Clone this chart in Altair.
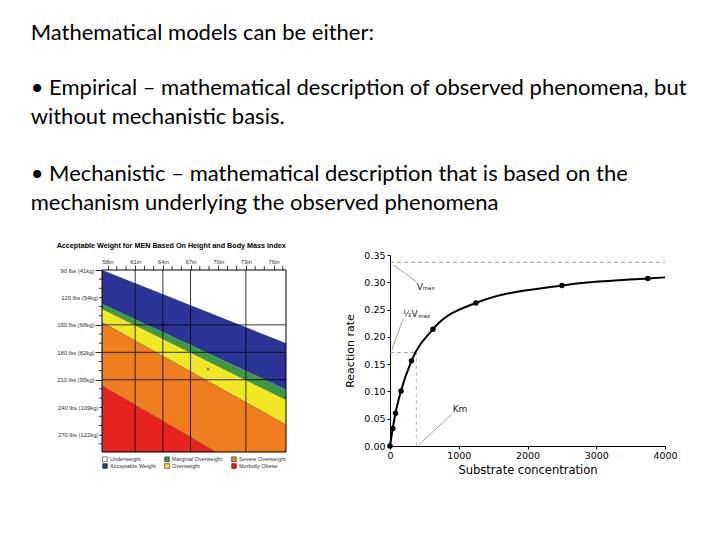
import altair as alt
import pandas as pd

# ---------------- slide text ----------------
heading_line = ["Mathematical models can be either:"]
empirical_lines = ["\u2022 Empirical \u2013 mathematical description of observed phenomena, but",
                   "without mechanistic basis."]
mechanistic_lines = ["\u2022 Mechanistic \u2013 mathematical description that is based on the",
                     "mechanism underlying the observed phenomena"]

# ---------------- BMI chart data ----------------
bmi_title = "Acceptable Weight for MEN Based On Height and Body Mass Index"
height_edges = [57.4, 77.35]
weight_edges = [90, 289]
band_names = ["Underweight", "Acceptable Weight", "Marginal Overweight",
              "Overweight", "Severe Overweight", "Morbidly Obese"]
band_colors = ["#ffffff", "#2b3595", "#3a9a47", "#efe924", "#ef7f1e", "#e6231e"]
boundary_left = [90, 90, 127.1, 132.5, 147.1, 216.5, 320]
boundary_right = [90, 170, 220.9, 231.8, 259.1, 333.6, 345]
height_label_values = [58, 61, 64, 67, 70, 73, 76]
height_label_text = ["58in", "61in", "64in", "67in", "70in", "73in", "76in"]
height_minor_ticks = [59, 60, 62, 63, 65, 66, 68, 69, 71, 72, 74, 75, 77]
height_grid = [61, 64, 67, 73]
weight_label_values = [90, 120, 150, 180, 210, 240, 270]
weight_label_text = ["90 lbs (41kg)", "120 lbs (54kg)", "150 lbs (68kg)", "180 lbs (82kg)",
                     "210 lbs (95kg)", "240 lbs (109kg)", "270 lbs (122kg)"]
weight_minor_ticks = [100, 110, 130, 140, 160, 170, 190, 200, 220, 230, 250, 260, 280]
weight_long_ticks = [90, 150, 180, 210]
weight_grid = [150, 180, 210]
marker_height = [68.9]
marker_weight = [198.4]

# ---------------- Michaelis-Menten data ----------------
conc = [0, 40, 80, 160, 312, 625, 1250, 2500, 3750]
rate = [0, 0.032, 0.06, 0.101, 0.156, 0.214, 0.262, 0.294, 0.307]
curve_conc = conc + [4000]
curve_rate = rate + [0.309]
conc_ticks = [0, 1000, 2000, 3000, 4000]
rate_ticks = [0, 0.05, 0.1, 0.15, 0.2, 0.25, 0.3, 0.35]
vmax = 0.3366
half_vmax = 0.1714
km = 383
leader_x1 = [48, 24, 412]
leader_y1 = [0.3317, 0.1756, 0.0013]
leader_x2 = [388, 194, 897]
leader_y2 = [0.301, 0.2338, 0.0582]
big_text = ["V", "\u00bdV", "Km"]
big_text_x = [388, 185, 912]
big_text_y = [0.2918, 0.2417, 0.0686]
sub_text = ["max", "max"]
sub_text_x = [475, 412]
sub_text_y = [0.2889, 0.238]

# ================= BMI chart =================
band_rows = []
for i, name in enumerate(band_names):
    band_rows.append({"height": height_edges[0], "weight": boundary_left[i],
                      "weight2": boundary_left[i + 1], "band": name})
    band_rows.append({"height": height_edges[1], "weight": boundary_right[i],
                      "weight2": boundary_right[i + 1], "band": name})
bands_df = pd.DataFrame(band_rows)

line_rows = []
for j in [3, 4, 5]:
    line_rows.append({"height": height_edges[0], "weight": boundary_left[j], "b": j})
    line_rows.append({"height": height_edges[1], "weight": boundary_right[j], "b": j})
lines_df = pd.DataFrame(line_rows)


def label_expr(values, texts):
    expr = "''"
    for v, t in reversed(list(zip(values, texts))):
        expr = f"datum.value == {v} ? '{t}' : ({expr})"
    return expr


# plot area reaches 15px above the drawn box so it lines up with the right chart
LEFT_H = 197
TOP_GAP = 15
lbs_per_px = (weight_edges[1] - weight_edges[0]) / (LEFT_H - TOP_GAP)
hx = alt.Scale(domain=height_edges, nice=False, zero=False)
wy = alt.Scale(domain=[weight_edges[0] - TOP_GAP * lbs_per_px, weight_edges[1]],
               nice=False, zero=False, reverse=True)
long_test = " || ".join(f"datum.value == {v}" for v in weight_long_ticks)
lfont = "Liberation Sans"

x_axis = alt.Axis(orient="top", offset=-TOP_GAP, values=height_label_values,
                  labelExpr=label_expr(height_label_values, height_label_text),
                  tickSize=5, tickColor="black", tickWidth=0.8, domain=False, grid=False,
                  labelFont=lfont, labelFontSize=5.9, labelColor="#333",
                  labelPadding=1, labelFlush=False, labelOverlap=False, title=None)
y_axis = alt.Axis(orient="left", values=weight_label_values,
                  labelExpr=label_expr(weight_label_values, weight_label_text),
                  tickSize={"condition": {"test": long_test, "value": 7}, "value": 3},
                  tickColor="black", tickWidth=0.8, domain=False, grid=False,
                  labelFont=lfont, labelFontSize=5.9, labelColor="#333",
                  labelPadding=1, labelFlush=False, labelOverlap=False, title=None)


def HX(field="height:Q"):
    return alt.X(field, scale=hx, axis=x_axis)


def WY(field="weight:Q"):
    return alt.Y(field, scale=wy, axis=y_axis)


areas = alt.Chart(bands_df).mark_area(clip=True, opacity=1).encode(
    x=HX(), y=WY(), y2="weight2:Q",
    color=alt.Color("band:N", scale=alt.Scale(domain=band_names, range=band_colors),
                    legend=alt.Legend(title=None, orient="none", legendX=0, legendY=201,
                                      columns=3, symbolType="square", symbolSize=22,
                                      symbolStrokeColor="black", symbolStrokeWidth=0.5,
                                      labelFont=lfont, labelFontSize=5.5,
                                      labelColor="#333", rowPadding=-1.5, columnPadding=7,
                                      labelOffset=2, padding=0)),
    detail="band:N",
)

bound_lines = alt.Chart(lines_df).mark_line(clip=True, color="black", strokeWidth=0.6,
                                            strokeDash=[1.5, 1], opacity=0.8).encode(
    x=HX(), y=WY(), detail="b:N")

vgrid = alt.Chart(pd.DataFrame({"height": height_grid, "weight": weight_edges[0],
                                "weight2": weight_edges[1]})).mark_rule(
    color="black", strokeWidth=0.8).encode(x=HX(), y=WY(), y2="weight2:Q")
hgrid = alt.Chart(pd.DataFrame({"weight": weight_grid})).mark_rule(
    color="black", strokeWidth=0.8).encode(y=WY())

box_h = alt.Chart(pd.DataFrame({"height": height_edges[0], "height2": height_edges[1],
                                "weight": weight_edges})).mark_rule(
    color="black", strokeWidth=1).encode(x=HX(), x2="height2:Q", y=WY())
box_v = alt.Chart(pd.DataFrame({"height": height_edges, "weight": weight_edges[0],
                                "weight2": weight_edges[1]})).mark_rule(
    color="black", strokeWidth=1).encode(x=HX(), y=WY(), y2="weight2:Q")

x_minor = alt.Chart(pd.DataFrame({"height": height_minor_ticks})).mark_rule(
    color="black", strokeWidth=0.8).encode(x=HX(), y=alt.value(TOP_GAP - 4),
                                           y2=alt.value(TOP_GAP))
y_minor = alt.Chart(pd.DataFrame({"weight": weight_minor_ticks})).mark_rule(
    color="black", strokeWidth=0.8).encode(y=WY(), x=alt.value(-3), x2=alt.value(0))

marker = alt.Chart(pd.DataFrame({"height": marker_height, "weight": marker_weight})).mark_point(
    shape="M-1,-1L1,1M-1,1L1,-1", size=10, color="black", strokeWidth=0.7, filled=False
).encode(x=HX(), y=WY())

left = alt.layer(areas, bound_lines, vgrid, hgrid, box_h, box_v, x_minor, y_minor,
                 marker).properties(
    width=184, height=LEFT_H,
    title=alt.TitleParams(bmi_title, font=lfont, fontSize=7.2, fontWeight="bold",
                          color="black", anchor="start", frame="bounds", offset=6),
)

# ================= Michaelis-Menten chart =================
cx = alt.Scale(domain=[0, 4000], nice=False)
ry = alt.Scale(domain=[0, 0.35], nice=False)
mm_font = "DejaVu Sans"
cx_axis = alt.Axis(values=conc_ticks, format="d", grid=False,
                   domainColor="black", domainWidth=1, tickColor="black", tickSize=3,
                   labelFont=mm_font, labelFontSize=9.5, labelColor="black", labelPadding=1,
                   labelFlush=False, labelOverlap=False, title="Substrate concentration",
                   titleFont=mm_font, titleFontSize=11.5, titleFontWeight="normal",
                   titleColor="black", titlePadding=5)
ry_axis = alt.Axis(values=rate_ticks, format=".2f", grid=False,
                   domainColor="black", domainWidth=1, tickColor="black", tickSize=3,
                   labelFont=mm_font, labelFontSize=9.5, labelColor="black", labelPadding=2,
                   labelFlush=False, labelOverlap=False, title="Reaction rate",
                   titleFont=mm_font, titleFontSize=11, titleFontWeight="normal",
                   titleColor="black", titlePadding=8)


def CX(field="conc:Q"):
    return alt.X(field, scale=cx, axis=cx_axis)


def RY(field="rate:Q"):
    return alt.Y(field, scale=ry, axis=ry_axis)


dash_gray = "#888"
vmax_df = pd.DataFrame({"conc": [0], "conc2": [4000], "rate": [vmax]})
vmax_line = alt.Chart(vmax_df).mark_rule(color=dash_gray, strokeWidth=0.8, strokeDash=[4, 3]).encode(
    x=CX(), x2="conc2:Q", y=RY())
half_df = pd.DataFrame({"conc": [0], "conc2": [km], "rate": [half_vmax]})
half_line = alt.Chart(half_df).mark_rule(color=dash_gray, strokeWidth=0.8, strokeDash=[4, 3]).encode(
    x=CX(), x2="conc2:Q", y=RY())
km_df = pd.DataFrame({"conc": [km], "rate": [0], "rate2": [half_vmax]})
km_line = alt.Chart(km_df).mark_rule(color="#aaa", strokeWidth=0.8, strokeDash=[4, 3]).encode(
    x=CX(), y=RY(), y2="rate2:Q")
leader_df = pd.DataFrame({"conc": leader_x1, "rate": leader_y1,
                          "conc2": leader_x2, "rate2": leader_y2})
leaders = alt.Chart(leader_df).mark_rule(color="#666", strokeWidth=0.6).encode(
    x=CX(), x2="conc2:Q", y=RY(), y2="rate2:Q")

curve = alt.Chart(pd.DataFrame({"conc": curve_conc, "rate": curve_rate})).mark_line(
    color="black", strokeWidth=2, interpolate="monotone").encode(x=CX(), y=RY())
points = alt.Chart(pd.DataFrame({"conc": conc, "rate": rate})).mark_circle(
    color="black", size=30, opacity=1).encode(x=CX(), y=RY())

big_labels = alt.Chart(pd.DataFrame({"conc": big_text_x, "rate": big_text_y, "t": big_text})).mark_text(
    align="left", baseline="middle", font=mm_font, fontSize=9, color="#222").encode(
    x=CX(), y=RY(), text="t:N")
sub_labels = alt.Chart(pd.DataFrame({"conc": sub_text_x, "rate": sub_text_y, "t": sub_text})).mark_text(
    align="left", baseline="middle", font=mm_font, fontSize=5.5, color="#222").encode(
    x=CX(), y=RY(), text="t:N")

right = alt.layer(vmax_line, half_line, km_line, leaders, curve, points,
                  big_labels, sub_labels).properties(width=275, height=191)

# ================= slide =================
slide_font = dict(font="Lato", fontSize=22, fontWeight="normal", color="black",
                  lineHeight=29, anchor="start")

inner = alt.hconcat(left, right, spacing=57).properties(
    title=alt.TitleParams(mechanistic_lines, offset=27, dx=-26, **slide_font))

chart = alt.vconcat(inner).properties(
    title=alt.TitleParams(heading_line, subtitle=empirical_lines, subtitleFont="Lato",
                          subtitleFontSize=22, subtitleColor="black", subtitleLineHeight=29,
                          subtitlePadding=33, offset=34, dx=0, **slide_font),
    padding={"left": 30, "top": 21, "right": 5, "bottom": 5},
    background="white",
).configure_view(stroke=None)

chart.save("out.html", embed_options={"renderer": "svg", "actions": False})
